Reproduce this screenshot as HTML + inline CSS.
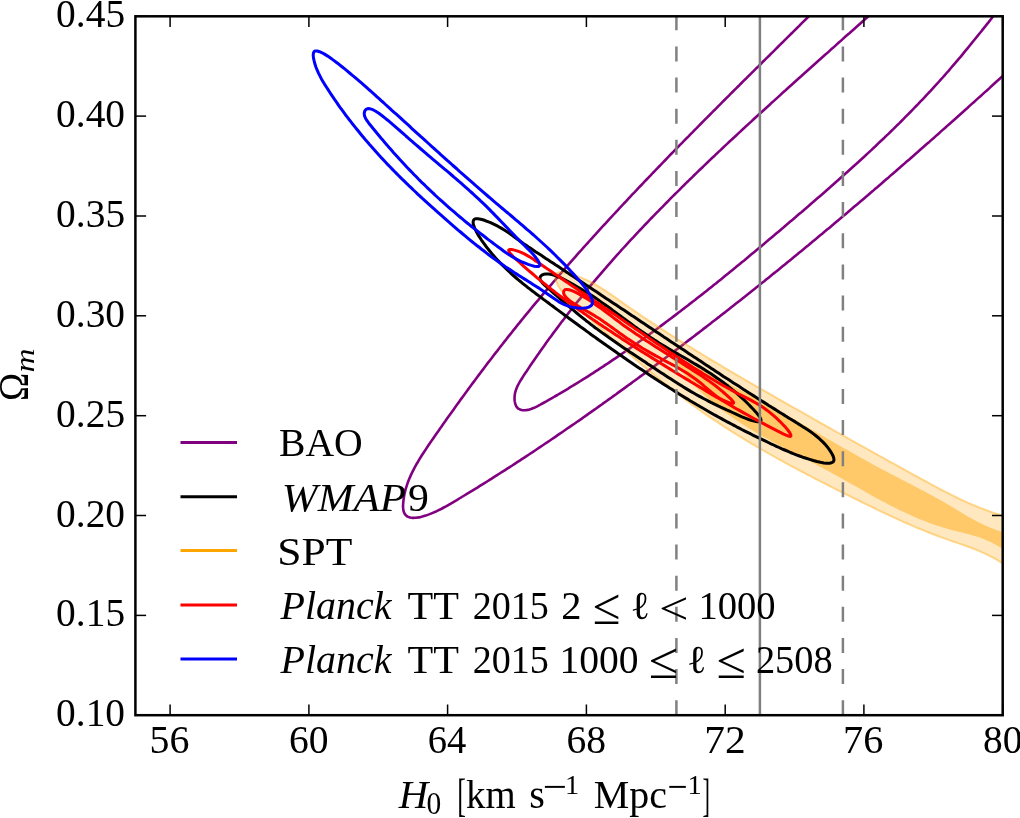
<!DOCTYPE html><html><head><meta charset="utf-8"><style>html,body{margin:0;padding:0;background:#fff;width:1020px;height:818px;overflow:hidden}svg{display:block;will-change:transform}</style></head><body><svg width="1020" height="818" viewBox="0 0 1020 818">
<defs><clipPath id="ax"><rect x="135.4" y="16.3" width="867.3" height="698.9"/></clipPath></defs>
<rect width="1020" height="818" fill="#fff"/>
<g clip-path="url(#ax)" fill="none" stroke-linejoin="round">
<path d="M923.5,-100.0 L921.4,-97.8 L919.4,-95.7 L917.3,-93.5 L915.2,-91.4 L913.2,-89.2 L911.1,-87.0 L909.0,-84.9 L906.9,-82.7 L904.9,-80.6 L902.8,-78.4 L900.7,-76.3 L898.6,-74.1 L896.5,-72.0 L894.4,-69.8 L892.4,-67.7 L890.3,-65.6 L888.2,-63.4 L886.1,-61.3 L884.0,-59.1 L881.9,-57.0 L879.8,-54.9 L877.7,-52.7 L875.6,-50.6 L873.5,-48.4 L871.4,-46.3 L869.3,-44.2 L867.2,-42.0 L865.0,-39.9 L862.9,-37.8 L860.8,-35.7 L858.7,-33.5 L856.6,-31.4 L854.5,-29.3 L852.4,-27.1 L850.2,-25.0 L848.1,-22.9 L846.0,-20.8 L843.9,-18.6 L841.8,-16.5 L839.6,-14.4 L837.5,-12.3 L835.4,-10.2 L833.3,-8.0 L831.1,-5.9 L829.0,-3.8 L826.9,-1.7 L824.8,0.4 L822.6,2.6 L820.5,4.7 L818.4,6.8 L816.2,8.9 L814.1,11.0 L812.0,13.2 L809.8,15.3 L807.7,17.4 L805.6,19.5 L803.4,21.6 L801.3,23.7 L799.2,25.9 L797.0,28.0 L794.9,30.1 L792.8,32.2 L790.6,34.3 L788.5,36.4 L786.3,38.6 L784.2,40.7 L782.1,42.8 L779.9,44.9 L777.8,47.0 L775.7,49.1 L773.5,51.3 L771.4,53.4 L769.3,55.5 L767.1,57.6 L765.0,59.7 L762.8,61.8 L760.7,64.0 L758.6,66.1 L756.4,68.2 L754.3,70.3 L752.2,72.4 L750.0,74.6 L747.9,76.7 L745.8,78.8 L743.6,80.9 L741.5,83.0 L739.4,85.2 L737.2,87.3 L735.1,89.4 L733.0,91.5 L730.8,93.7 L728.7,95.8 L726.6,97.9 L724.5,100.0 L722.3,102.2 L720.2,104.3 L718.1,106.4 L716.0,108.6 L713.8,110.7 L711.7,112.8 L709.6,115.0 L707.5,117.1 L705.4,119.2 L703.2,121.4 L701.1,123.5 L699.0,125.6 L696.9,127.8 L694.8,129.9 L692.7,132.1 L690.6,134.2 L688.5,136.4 L686.3,138.5 L684.2,140.6 L682.1,142.8 L680.0,144.9 L677.9,147.1 L675.8,149.2 L673.7,151.4 L671.6,153.5 L669.5,155.7 L667.4,157.9 L665.4,160.0 L663.3,162.2 L661.2,164.3 L659.1,166.5 L657.0,168.7 L654.9,170.8 L652.8,173.0 L650.8,175.2 L648.7,177.3 L646.6,179.5 L644.5,181.7 L642.5,183.8 L640.4,186.0 L638.3,188.2 L636.3,190.4 L634.2,192.6 L632.1,194.7 L630.1,196.9 L628.0,199.1 L626.0,201.3 L623.9,203.5 L621.9,205.7 L619.8,207.9 L617.8,210.1 L615.7,212.3 L613.7,214.5 L611.7,216.7 L609.6,218.9 L607.6,221.1 L605.6,223.3 L603.5,225.5 L601.5,227.7 L599.5,229.9 L597.5,232.1 L595.5,234.4 L593.4,236.6 L591.4,238.8 L589.4,241.0 L587.4,243.3 L585.4,245.5 L583.4,247.7 L581.4,250.0 L579.4,252.2 L577.4,254.4 L575.5,256.7 L573.5,258.9 L571.5,261.2 L569.5,263.4 L567.5,265.7 L565.6,267.9 L563.6,270.2 L561.6,272.5 L559.7,274.7 L557.7,277.0 L555.8,279.3 L553.8,281.5 L551.9,283.8 L549.9,286.1 L548.0,288.4 L546.1,290.6 L544.1,292.9 L542.2,295.2 L540.3,297.5 L538.4,299.8 L536.4,302.1 L534.5,304.4 L532.6,306.7 L530.7,309.0 L528.8,311.3 L526.9,313.6 L525.0,315.9 L523.1,318.3 L521.2,320.6 L519.4,322.9 L517.5,325.2 L515.6,327.6 L513.7,329.9 L511.9,332.2 L510.0,334.6 L508.1,336.9 L506.3,339.3 L504.4,341.6 L502.6,344.0 L500.7,346.3 L498.9,348.7 L497.1,351.1 L495.2,353.4 L493.4,355.8 L491.6,358.2 L489.8,360.5 L487.9,362.9 L486.1,365.3 L484.3,367.7 L482.5,370.1 L480.7,372.5 L478.9,374.9 L477.1,377.3 L475.3,379.7 L473.5,382.1 L471.7,384.5 L469.9,387.0 L468.1,389.4 L466.4,391.8 L464.6,394.2 L462.8,396.7 L461.0,399.1 L459.3,401.6 L457.5,404.0 L455.7,406.5 L454.0,408.9 L452.2,411.4 L450.4,413.9 L448.7,416.3 L446.9,418.8 L445.2,421.3 L443.4,423.8 L441.7,426.3 L439.9,428.7 L438.2,431.2 L436.4,433.7 L434.7,436.2 L433.0,438.8 L431.2,441.3 L429.5,443.8 L427.8,446.3 L426.1,448.9 L424.4,451.4 L422.7,454.0 L421.1,456.5 L419.5,459.1 L418.0,461.7 L416.4,464.3 L415.0,466.9 L413.6,469.6 L412.3,472.2 L411.0,474.9 L409.8,477.6 L408.7,480.3 L407.6,483.1 L406.7,485.8 L405.8,488.6 L405.1,491.4 L404.4,494.3 L403.9,497.2 L403.5,500.1 L403.2,503.0 L403.0,505.9 L403.2,508.7 L403.6,511.2 L404.5,513.4 L405.8,515.3 L407.6,516.6 L410.0,517.5 L412.8,517.9 L415.8,517.8 L419.1,517.4 L422.4,516.6 L425.7,515.6 L429.0,514.4 L432.2,513.1 L435.3,511.8 L438.2,510.4 L441.1,509.0 L443.8,507.5 L446.5,506.1 L449.1,504.6 L451.7,503.1 L454.2,501.6 L456.8,500.1 L459.3,498.5 L461.8,497.0 L464.3,495.5 L466.9,493.9 L469.4,492.4 L471.9,490.9 L474.4,489.3 L477.0,487.8 L479.5,486.2 L482.0,484.6 L484.5,483.1 L487.1,481.5 L489.6,479.9 L492.1,478.3 L494.6,476.7 L497.1,475.1 L499.6,473.5 L502.1,471.9 L504.7,470.3 L507.2,468.7 L509.7,467.1 L512.2,465.5 L514.7,463.8 L517.2,462.2 L519.7,460.6 L522.2,458.9 L524.7,457.3 L527.2,455.7 L529.7,454.0 L532.2,452.4 L534.7,450.7 L537.2,449.0 L539.6,447.4 L542.1,445.7 L544.6,444.0 L547.1,442.4 L549.6,440.7 L552.1,439.0 L554.6,437.3 L557.0,435.6 L559.5,433.9 L562.0,432.2 L564.5,430.5 L566.9,428.8 L569.4,427.1 L571.9,425.4 L574.4,423.7 L576.8,422.0 L579.3,420.3 L581.8,418.6 L584.2,416.8 L586.7,415.1 L589.1,413.4 L591.6,411.6 L594.1,409.9 L596.5,408.2 L599.0,406.4 L601.4,404.7 L603.9,402.9 L606.3,401.2 L608.8,399.4 L611.2,397.7 L613.7,395.9 L616.1,394.2 L618.5,392.4 L621.0,390.6 L623.4,388.9 L625.8,387.1 L628.3,385.3 L630.7,383.6 L633.1,381.8 L635.6,380.0 L638.0,378.2 L640.4,376.4 L642.8,374.7 L645.3,372.9 L647.7,371.1 L650.1,369.3 L652.5,367.5 L654.9,365.7 L657.3,363.9 L659.7,362.1 L662.2,360.3 L664.6,358.5 L667.0,356.7 L669.4,354.9 L671.8,353.1 L674.2,351.3 L676.6,349.5 L679.0,347.7 L681.4,345.9 L683.8,344.0 L686.1,342.2 L688.5,340.4 L690.9,338.6 L693.3,336.8 L695.7,334.9 L698.1,333.1 L700.5,331.3 L702.8,329.4 L705.2,327.6 L707.6,325.8 L710.0,323.9 L712.3,322.1 L714.7,320.3 L717.1,318.4 L719.5,316.6 L721.8,314.7 L724.2,312.9 L726.6,311.0 L728.9,309.2 L731.3,307.3 L733.6,305.5 L736.0,303.6 L738.4,301.7 L740.7,299.9 L743.1,298.0 L745.4,296.2 L747.8,294.3 L750.1,292.4 L752.5,290.5 L754.8,288.7 L757.2,286.8 L759.5,284.9 L761.8,283.0 L764.2,281.2 L766.5,279.3 L768.9,277.4 L771.2,275.5 L773.5,273.6 L775.9,271.8 L778.2,269.9 L780.5,268.0 L782.9,266.1 L785.2,264.2 L787.5,262.3 L789.8,260.4 L792.2,258.5 L794.5,256.6 L796.8,254.7 L799.1,252.8 L801.4,250.9 L803.8,249.0 L806.1,247.1 L808.4,245.2 L810.7,243.2 L813.0,241.3 L815.3,239.4 L817.6,237.5 L819.9,235.6 L822.2,233.7 L824.5,231.7 L826.8,229.8 L829.2,227.9 L831.5,226.0 L833.8,224.1 L836.1,222.1 L838.3,220.2 L840.6,218.3 L842.9,216.3 L845.2,214.4 L847.5,212.5 L849.8,210.5 L852.1,208.6 L854.4,206.6 L856.7,204.7 L859.0,202.8 L861.3,200.8 L863.5,198.9 L865.8,196.9 L868.1,195.0 L870.4,193.0 L872.7,191.1 L874.9,189.1 L877.2,187.2 L879.5,185.2 L881.8,183.3 L884.0,181.3 L886.3,179.3 L888.6,177.4 L890.8,175.4 L893.1,173.4 L895.4,171.5 L897.6,169.5 L899.9,167.6 L902.2,165.6 L904.4,163.6 L906.7,161.6 L909.0,159.7 L911.2,157.7 L913.5,155.7 L915.7,153.7 L918.0,151.8 L920.2,149.8 L922.5,147.8 L924.8,145.8 L927.0,143.8 L929.3,141.9 L931.5,139.9 L933.8,137.9 L936.0,135.9 L938.3,133.9 L940.5,131.9 L942.7,129.9 L945.0,127.9 L947.2,125.9 L949.5,123.9 L951.7,122.0 L954.0,120.0 L956.2,118.0 L958.4,116.0 L960.7,114.0 L962.9,112.0 L965.1,110.0 L967.4,108.0 L969.6,105.9 L971.8,103.9 L974.1,101.9 L976.3,99.9 L978.5,97.9 L980.8,95.9 L983.0,93.9 L985.2,91.9 L987.5,89.9 L989.7,87.9 L991.9,85.8 L994.1,83.8 L996.3,81.8 L998.6,79.8 L1000.8,77.8 L1003.0,75.8 L1005.2,73.7 L1007.5,71.7 L1009.7,69.7 L1011.9,67.7 L1014.1,65.6 L1016.3,63.6 L1018.5,61.6 L1020.7,59.6 L1023.0,57.5 L1025.2,55.5 L1027.4,53.5 L1029.6,51.4 L1031.8,49.4 L1034.0,47.4 L1036.2,45.3 L1038.4,43.3 L1040.6,41.3 L1042.8,39.2 L1045.1,37.2 L1047.3,35.1 L1049.5,33.1 L1051.7,31.1 L1053.9,29.0 L1056.1,27.0 L1058.3,24.9 L1060.5,22.9 L1062.7,20.9 L1064.9,18.8 L1067.1,16.8 L1069.3,14.7 L1071.5,12.7 L1073.7,10.6 L1075.9,8.6 L1078.1,6.5 L1080.3,4.5 L1082.4,2.4 L1084.6,0.4 L1086.8,-1.7 L1089.0,-3.7 L1091.2,-5.8 L1093.4,-7.9 L1095.6,-9.9 L1097.8,-12.0 L1100.0,-14.0" stroke="#800080" stroke-width="2.60"/>
<path d="M996.0,-100.0 L993.8,-97.9 L991.6,-95.9 L989.4,-93.8 L987.2,-91.7 L985.0,-89.6 L982.8,-87.6 L980.6,-85.5 L978.4,-83.5 L976.2,-81.4 L974.0,-79.4 L971.8,-77.3 L969.6,-75.3 L967.4,-73.2 L965.2,-71.2 L963.0,-69.1 L960.8,-67.1 L958.5,-65.0 L956.3,-63.0 L954.1,-61.0 L951.9,-58.9 L949.7,-56.9 L947.5,-54.9 L945.3,-52.9 L943.0,-50.8 L940.8,-48.8 L938.6,-46.8 L936.4,-44.8 L934.2,-42.8 L931.9,-40.7 L929.7,-38.7 L927.5,-36.7 L925.3,-34.7 L923.0,-32.7 L920.8,-30.7 L918.6,-28.7 L916.4,-26.7 L914.1,-24.7 L911.9,-22.7 L909.7,-20.7 L907.5,-18.7 L905.2,-16.7 L903.0,-14.7 L900.8,-12.7 L898.5,-10.7 L896.3,-8.7 L894.1,-6.7 L891.8,-4.7 L889.6,-2.7 L887.4,-0.7 L885.1,1.3 L882.9,3.3 L880.7,5.3 L878.4,7.3 L876.2,9.3 L874.0,11.3 L871.7,13.3 L869.5,15.3 L867.3,17.2 L865.0,19.2 L862.8,21.2 L860.6,23.2 L858.3,25.2 L856.1,27.2 L853.9,29.2 L851.6,31.2 L849.4,33.2 L847.2,35.1 L844.9,37.1 L842.7,39.1 L840.5,41.1 L838.2,43.1 L836.0,45.1 L833.8,47.1 L831.5,49.1 L829.3,51.1 L827.1,53.1 L824.8,55.1 L822.6,57.0 L820.4,59.0 L818.1,61.0 L815.9,63.0 L813.7,65.0 L811.4,67.0 L809.2,69.0 L807.0,71.0 L804.7,73.0 L802.5,75.0 L800.3,77.0 L798.0,79.0 L795.8,81.0 L793.6,83.0 L791.4,85.0 L789.1,87.0 L786.9,89.0 L784.7,91.1 L782.4,93.1 L780.2,95.1 L778.0,97.1 L775.8,99.1 L773.6,101.1 L771.3,103.1 L769.1,105.2 L766.9,107.2 L764.7,109.2 L762.5,111.2 L760.2,113.3 L758.0,115.3 L755.8,117.3 L753.6,119.3 L751.4,121.4 L749.2,123.4 L746.9,125.4 L744.7,127.5 L742.5,129.5 L740.3,131.6 L738.1,133.6 L735.9,135.7 L733.7,137.7 L731.5,139.8 L729.3,141.8 L727.1,143.9 L724.9,145.9 L722.7,148.0 L720.5,150.1 L718.3,152.1 L716.1,154.2 L714.0,156.3 L711.8,158.3 L709.6,160.4 L707.4,162.5 L705.2,164.6 L703.1,166.7 L700.9,168.7 L698.7,170.8 L696.6,172.9 L694.4,175.0 L692.3,177.1 L690.1,179.2 L688.0,181.3 L685.8,183.4 L683.7,185.5 L681.5,187.6 L679.4,189.8 L677.3,191.9 L675.1,194.0 L673.0,196.1 L670.9,198.2 L668.8,200.4 L666.7,202.5 L664.6,204.6 L662.5,206.8 L660.4,208.9 L658.3,211.1 L656.2,213.2 L654.1,215.4 L652.0,217.5 L649.9,219.7 L647.9,221.8 L645.8,224.0 L643.7,226.2 L641.7,228.3 L639.6,230.5 L637.6,232.7 L635.5,234.9 L633.5,237.1 L631.5,239.2 L629.4,241.4 L627.4,243.6 L625.4,245.8 L623.4,248.0 L621.4,250.2 L619.4,252.5 L617.4,254.7 L615.4,256.9 L613.4,259.1 L611.5,261.4 L609.5,263.6 L607.5,265.8 L605.6,268.1 L603.6,270.3 L601.7,272.6 L599.8,274.8 L597.8,277.1 L595.9,279.4 L594.0,281.7 L592.0,283.9 L590.1,286.2 L588.2,288.5 L586.3,290.8 L584.4,293.1 L582.5,295.4 L580.7,297.8 L578.8,300.1 L576.9,302.4 L575.0,304.8 L573.2,307.1 L571.3,309.5 L569.5,311.8 L567.6,314.2 L565.8,316.6 L564.0,319.0 L562.1,321.3 L560.3,323.7 L558.5,326.2 L556.7,328.6 L554.9,331.0 L553.1,333.4 L551.3,335.9 L549.5,338.3 L547.7,340.8 L545.9,343.2 L544.2,345.7 L542.4,348.2 L540.6,350.7 L538.9,353.2 L537.1,355.7 L535.4,358.2 L533.7,360.7 L531.9,363.3 L530.2,365.8 L528.5,368.4 L526.8,371.0 L525.0,373.5 L523.3,376.1 L521.7,378.7 L520.0,381.4 L518.6,384.0 L517.2,386.7 L516.1,389.5 L515.2,392.3 L514.7,395.3 L514.5,398.3 L514.7,401.2 L515.3,404.0 L516.3,406.4 L517.9,408.3 L519.9,409.5 L522.4,410.2 L525.1,410.3 L528.0,409.9 L531.0,409.0 L534.1,407.8 L537.2,406.3 L540.3,404.7 L543.3,403.0 L546.3,401.4 L549.2,399.7 L552.0,398.1 L554.7,396.5 L557.4,395.0 L560.1,393.4 L562.7,391.9 L565.3,390.3 L567.8,388.8 L570.3,387.2 L572.9,385.7 L575.4,384.1 L577.9,382.6 L580.5,381.0 L583.0,379.4 L585.5,377.9 L588.0,376.3 L590.5,374.7 L593.0,373.1 L595.5,371.4 L598.0,369.8 L600.5,368.2 L603.0,366.6 L605.4,364.9 L607.9,363.3 L610.4,361.6 L612.9,359.9 L615.3,358.3 L617.8,356.6 L620.3,354.9 L622.7,353.2 L625.2,351.5 L627.6,349.8 L630.1,348.1 L632.5,346.4 L635.0,344.7 L637.4,343.0 L639.8,341.2 L642.3,339.5 L644.7,337.8 L647.1,336.0 L649.5,334.2 L651.9,332.5 L654.4,330.7 L656.8,329.0 L659.2,327.2 L661.6,325.4 L664.0,323.6 L666.4,321.8 L668.8,320.0 L671.2,318.2 L673.6,316.4 L676.0,314.6 L678.3,312.8 L680.7,311.0 L683.1,309.1 L685.5,307.3 L687.9,305.5 L690.2,303.6 L692.6,301.8 L695.0,300.0 L697.3,298.1 L699.7,296.2 L702.1,294.4 L704.4,292.5 L706.8,290.7 L709.1,288.8 L711.5,286.9 L713.8,285.0 L716.2,283.2 L718.5,281.3 L720.9,279.4 L723.2,277.5 L725.5,275.6 L727.9,273.7 L730.2,271.8 L732.5,269.9 L734.9,268.0 L737.2,266.1 L739.5,264.2 L741.8,262.3 L744.2,260.4 L746.5,258.4 L748.8,256.5 L751.1,254.6 L753.4,252.7 L755.8,250.7 L758.1,248.8 L760.4,246.9 L762.7,245.0 L765.0,243.0 L767.3,241.1 L769.6,239.1 L771.9,237.2 L774.2,235.3 L776.5,233.3 L778.8,231.4 L781.1,229.4 L783.4,227.5 L785.7,225.5 L788.0,223.6 L790.3,221.6 L792.6,219.7 L794.9,217.7 L797.1,215.8 L799.4,213.8 L801.7,211.9 L804.0,209.9 L806.3,207.9 L808.6,206.0 L810.8,204.0 L813.1,202.1 L815.4,200.1 L817.7,198.1 L819.9,196.2 L822.2,194.2 L824.5,192.2 L826.7,190.2 L829.0,188.2 L831.2,186.3 L833.5,184.3 L835.7,182.3 L838.0,180.3 L840.2,178.3 L842.5,176.3 L844.7,174.3 L847.0,172.3 L849.2,170.3 L851.4,168.3 L853.6,166.3 L855.9,164.3 L858.1,162.3 L860.3,160.2 L862.5,158.2 L864.7,156.2 L866.9,154.1 L869.1,152.1 L871.3,150.1 L873.5,148.0 L875.7,146.0 L877.8,143.9 L880.0,141.8 L882.2,139.8 L884.4,137.7 L886.5,135.6 L888.7,133.6 L890.8,131.5 L893.0,129.4 L895.1,127.3 L897.2,125.2 L899.4,123.1 L901.5,121.0 L903.6,118.9 L905.7,116.7 L907.8,114.6 L909.9,112.5 L912.0,110.3 L914.1,108.2 L916.2,106.0 L918.3,103.9 L920.3,101.7 L922.4,99.6 L924.5,97.4 L926.5,95.2 L928.5,93.0 L930.6,90.8 L932.6,88.6 L934.6,86.4 L936.7,84.2 L938.7,82.0 L940.7,79.7 L942.7,77.5 L944.6,75.3 L946.6,73.0 L948.6,70.8 L950.5,68.5 L952.5,66.2 L954.5,63.9 L956.4,61.7 L958.3,59.4 L960.3,57.1 L962.2,54.8 L964.1,52.4 L966.0,50.1 L967.9,47.8 L969.8,45.5 L971.7,43.2 L973.6,40.8 L975.5,38.5 L977.4,36.2 L979.3,33.8 L981.2,31.5 L983.0,29.1 L984.9,26.8 L986.8,24.4 L988.7,22.1 L990.5,19.7 L992.4,17.3 L994.3,15.0 L996.1,12.6 L998.0,10.3 L999.9,7.9 L1001.7,5.5 L1003.6,3.2 L1005.5,0.8 L1007.3,-1.5 L1009.2,-3.9 L1011.1,-6.2 L1013.0,-8.6 L1014.8,-10.9 L1016.7,-13.3 L1018.6,-15.6 L1020.5,-18.0 L1022.4,-20.3 L1024.3,-22.7 L1026.2,-25.0 L1028.1,-27.3 L1030.0,-29.6 L1031.9,-32.0 L1033.8,-34.3 L1035.7,-36.6 L1037.6,-38.9 L1039.6,-41.2 L1041.5,-43.5 L1043.4,-45.8 L1045.4,-48.0 L1047.3,-50.3 L1049.3,-52.6 L1051.3,-54.8 L1053.3,-57.1 L1055.3,-59.3 L1057.3,-61.5 L1059.3,-63.8 L1061.3,-66.0 L1063.3,-68.2 L1065.3,-70.4 L1067.4,-72.6 L1069.4,-74.8 L1071.5,-76.9 L1073.6,-79.1 L1075.7,-81.2 L1077.8,-83.4 L1079.9,-85.5 L1082.0,-87.6 L1084.1,-89.7 L1086.3,-91.8 L1088.4,-93.9 L1090.6,-95.9 L1092.8,-98.0 L1095.0,-100.0" stroke="#800080" stroke-width="2.60"/>
<path d="M555.5,274.0 L556.7,272.9 L558.5,272.3 L560.8,272.2 L563.5,272.4 L566.5,272.9 L569.8,273.7 L573.1,274.7 L576.5,275.8 L579.8,277.1 L583.0,278.4 L586.1,279.7 L589.1,281.2 L592.0,282.7 L594.8,284.2 L597.6,285.8 L600.3,287.4 L602.9,289.1 L605.5,290.7 L608.0,292.5 L610.5,294.2 L613.0,295.9 L615.5,297.6 L617.9,299.4 L620.4,301.1 L622.9,302.9 L625.3,304.6 L627.8,306.3 L630.2,308.0 L632.7,309.7 L635.2,311.4 L637.7,313.1 L640.2,314.8 L642.6,316.5 L645.1,318.1 L647.6,319.8 L650.1,321.4 L652.6,323.1 L655.1,324.7 L657.6,326.4 L660.1,328.0 L662.6,329.6 L665.2,331.3 L667.7,332.9 L670.2,334.5 L672.7,336.1 L675.3,337.7 L677.8,339.3 L680.3,340.9 L682.9,342.5 L685.4,344.0 L687.9,345.6 L690.5,347.2 L693.0,348.7 L695.6,350.3 L698.1,351.9 L700.7,353.4 L703.2,355.0 L705.8,356.5 L708.4,358.1 L710.9,359.6 L713.5,361.1 L716.1,362.7 L718.6,364.2 L721.2,365.7 L723.8,367.3 L726.4,368.8 L728.9,370.3 L731.5,371.8 L734.1,373.3 L736.7,374.8 L739.3,376.4 L741.9,377.9 L744.5,379.4 L747.0,380.9 L749.6,382.4 L752.2,383.9 L754.8,385.4 L757.4,386.9 L760.0,388.4 L762.6,389.9 L765.2,391.4 L767.9,392.8 L770.5,394.3 L773.1,395.8 L775.7,397.3 L778.3,398.8 L780.9,400.3 L783.5,401.8 L786.1,403.3 L788.7,404.8 L791.4,406.3 L794.0,407.8 L796.6,409.2 L799.2,410.7 L801.8,412.2 L804.5,413.7 L807.1,415.2 L809.7,416.7 L812.3,418.2 L814.9,419.7 L817.6,421.1 L820.2,422.6 L822.8,424.1 L825.4,425.6 L828.1,427.1 L830.7,428.5 L833.3,430.0 L835.9,431.5 L838.6,433.0 L841.2,434.5 L843.8,435.9 L846.5,437.4 L849.1,438.9 L851.7,440.4 L854.3,441.8 L857.0,443.3 L859.6,444.8 L862.2,446.2 L864.9,447.7 L867.5,449.2 L870.1,450.6 L872.7,452.1 L875.4,453.6 L878.0,455.0 L880.6,456.5 L883.2,457.9 L885.9,459.4 L888.5,460.8 L891.1,462.3 L893.7,463.7 L896.4,465.2 L899.0,466.6 L901.6,468.1 L904.2,469.5 L906.8,471.0 L909.4,472.4 L912.1,473.9 L914.7,475.3 L917.3,476.7 L919.9,478.2 L922.5,479.6 L925.1,481.0 L927.7,482.4 L930.4,483.9 L933.0,485.3 L935.6,486.7 L938.2,488.1 L940.9,489.5 L943.5,490.8 L946.1,492.2 L948.8,493.5 L951.5,494.9 L954.1,496.2 L956.8,497.5 L959.5,498.8 L962.2,500.1 L965.0,501.3 L967.7,502.6 L970.5,503.8 L973.2,505.0 L976.0,506.1 L978.8,507.3 L981.7,508.4 L984.5,509.5 L987.4,510.6 L990.3,511.6 L993.2,512.6 L996.1,513.6 L999.1,514.5 L1002.1,515.5 L1005.1,516.3 L1008.2,517.2 L1011.2,518.1 L1014.2,519.0 L1017.2,520.0 L1020.1,521.0 L1023.0,522.1 L1025.7,523.4 L1028.4,524.9 L1030.9,526.5 L1033.3,528.3 L1035.5,530.3 L1037.5,532.6 L1039.4,535.2 L1041.0,538.0 L1042.4,541.2 L1043.6,544.5 L1044.5,548.0 L1045.3,551.6 L1045.8,555.2 L1046.0,558.8 L1046.1,562.3 L1045.9,565.7 L1045.5,568.9 L1044.9,571.8 L1044.0,574.5 L1042.9,576.7 L1041.6,578.5 L1040.0,579.9 L1038.2,580.7 L1036.2,581.0 L1034.0,580.8 L1031.6,580.3 L1029.0,579.4 L1026.4,578.2 L1023.6,576.7 L1020.7,575.0 L1017.7,573.2 L1014.7,571.2 L1011.6,569.2 L1008.6,567.1 L1005.5,565.1 L1002.4,563.1 L999.4,561.3 L996.5,559.5 L993.5,557.9 L990.6,556.4 L987.7,554.9 L984.9,553.6 L982.1,552.3 L979.3,551.1 L976.5,549.9 L973.7,548.8 L971.0,547.8 L968.2,546.8 L965.5,545.8 L962.8,544.8 L960.0,543.9 L957.3,542.9 L954.5,542.0 L951.8,541.0 L949.0,540.1 L946.2,539.1 L943.4,538.1 L940.6,537.1 L937.8,536.0 L935.0,535.0 L932.2,533.9 L929.4,532.8 L926.6,531.7 L923.8,530.5 L921.0,529.4 L918.2,528.3 L915.4,527.1 L912.6,525.9 L909.9,524.7 L907.2,523.5 L904.4,522.3 L901.7,521.1 L899.0,519.9 L896.3,518.7 L893.6,517.4 L890.9,516.2 L888.2,514.9 L885.5,513.7 L882.9,512.4 L880.2,511.1 L877.5,509.8 L874.9,508.5 L872.2,507.2 L869.5,505.9 L866.8,504.6 L864.2,503.3 L861.5,502.0 L858.8,500.7 L856.2,499.4 L853.5,498.0 L850.8,496.7 L848.1,495.4 L845.4,494.0 L842.7,492.7 L840.0,491.3 L837.4,490.0 L834.7,488.6 L832.0,487.3 L829.3,485.9 L826.6,484.5 L823.9,483.2 L821.2,481.8 L818.5,480.4 L815.8,479.0 L813.1,477.6 L810.4,476.2 L807.7,474.8 L805.1,473.4 L802.4,472.0 L799.7,470.6 L797.0,469.1 L794.3,467.7 L791.7,466.3 L789.0,464.8 L786.3,463.4 L783.7,461.9 L781.0,460.4 L778.3,459.0 L775.7,457.5 L773.0,456.0 L770.4,454.5 L767.7,453.0 L765.1,451.5 L762.5,450.0 L759.9,448.5 L757.2,447.0 L754.6,445.4 L752.0,443.9 L749.4,442.3 L746.8,440.8 L744.2,439.2 L741.7,437.7 L739.1,436.1 L736.5,434.5 L734.0,432.9 L731.4,431.3 L728.9,429.7 L726.3,428.1 L723.8,426.5 L721.3,424.8 L718.8,423.2 L716.3,421.5 L713.8,419.9 L711.3,418.2 L708.9,416.6 L706.4,414.9 L704.0,413.2 L701.5,411.5 L699.1,409.8 L696.7,408.0 L694.3,406.3 L691.9,404.6 L689.5,402.8 L687.1,401.1 L684.8,399.3 L682.4,397.5 L680.1,395.8 L677.7,394.0 L675.4,392.2 L673.1,390.4 L670.8,388.5 L668.4,386.7 L666.1,384.9 L663.8,383.0 L661.5,381.2 L659.2,379.3 L657.0,377.4 L654.7,375.6 L652.4,373.7 L650.1,371.8 L647.8,369.9 L645.6,368.0 L643.3,366.1 L641.0,364.1 L638.8,362.2 L636.5,360.3 L634.2,358.3 L632.0,356.3 L629.7,354.4 L627.5,352.4 L625.2,350.4 L622.9,348.4 L620.6,346.4 L618.4,344.4 L616.1,342.4 L613.8,340.4 L611.5,338.4 L609.3,336.3 L607.0,334.3 L604.7,332.2 L602.4,330.2 L600.1,328.1 L597.7,326.0 L595.4,324.0 L593.1,321.9 L590.8,319.8 L588.4,317.7 L586.1,315.6 L583.7,313.5 L581.4,311.3 L579.0,309.2 L576.6,307.1 L574.3,304.9 L571.9,302.7 L569.7,300.4 L567.4,298.1 L565.3,295.7 L563.3,293.2 L561.3,290.6 L559.5,287.9 L557.9,285.2 L556.6,282.5 L555.6,279.9 L555.0,277.6 L555.0,275.6 L555.5,274.0Z" fill="#ffa500" fill-opacity="0.25" stroke="#ffa500" stroke-opacity="0.4" stroke-width="2"/>
<path d="M672.1,358.1 L672.6,357.4 L673.9,357.3 L675.9,357.7 L678.4,358.5 L681.4,359.6 L684.8,361.1 L688.3,362.8 L692.1,364.6 L695.8,366.4 L699.5,368.3 L702.9,370.1 L706.2,371.8 L709.4,373.4 L712.4,374.9 L715.2,376.4 L718.0,377.9 L720.6,379.3 L723.2,380.7 L725.7,382.0 L728.1,383.3 L730.5,384.6 L732.9,385.9 L735.2,387.2 L737.6,388.5 L740.0,389.8 L742.5,391.1 L745.0,392.5 L747.5,393.8 L750.1,395.2 L752.6,396.6 L755.2,398.0 L757.9,399.4 L760.5,400.8 L763.2,402.3 L765.9,403.7 L768.5,405.2 L771.2,406.6 L773.9,408.1 L776.6,409.6 L779.3,411.1 L782.0,412.5 L784.6,414.0 L787.3,415.5 L789.9,417.0 L792.6,418.5 L795.2,420.0 L797.8,421.5 L800.4,423.0 L803.0,424.5 L805.6,426.0 L808.2,427.5 L810.8,429.0 L813.4,430.5 L816.0,432.0 L818.6,433.5 L821.2,435.0 L823.8,436.5 L826.3,437.9 L828.9,439.4 L831.5,440.9 L834.1,442.4 L836.6,443.9 L839.2,445.4 L841.8,446.9 L844.4,448.4 L847.0,449.8 L849.5,451.3 L852.1,452.8 L854.7,454.3 L857.3,455.7 L859.9,457.2 L862.5,458.6 L865.1,460.1 L867.7,461.5 L870.4,463.0 L873.0,464.4 L875.6,465.9 L878.3,467.3 L880.9,468.7 L883.6,470.1 L886.3,471.5 L888.9,472.9 L891.6,474.3 L894.3,475.7 L897.0,477.1 L899.7,478.5 L902.4,479.9 L905.1,481.3 L907.7,482.7 L910.4,484.1 L913.1,485.5 L915.8,486.9 L918.5,488.3 L921.1,489.7 L923.8,491.1 L926.4,492.5 L929.1,493.9 L931.7,495.3 L934.3,496.8 L936.9,498.2 L939.5,499.6 L942.0,501.1 L944.6,502.6 L947.1,504.0 L949.6,505.5 L952.1,507.0 L954.6,508.5 L957.1,510.0 L959.6,511.5 L962.0,513.0 L964.5,514.5 L967.0,515.9 L969.5,517.4 L972.1,518.8 L974.6,520.3 L977.2,521.6 L979.9,523.0 L982.6,524.3 L985.3,525.6 L988.1,526.8 L991.0,528.0 L994.0,529.1 L997.0,530.2 L1000.1,531.2 L1003.3,532.2 L1006.6,533.1 L1009.9,533.9 L1013.3,534.8 L1016.6,535.7 L1019.8,536.7 L1022.9,537.7 L1025.9,538.9 L1028.8,540.2 L1031.4,541.7 L1033.8,543.4 L1035.9,545.3 L1037.7,547.5 L1039.1,550.0 L1040.1,552.8 L1040.8,555.9 L1041.0,559.0 L1040.8,561.9 L1040.1,564.4 L1039.1,566.1 L1037.6,567.1 L1035.8,567.5 L1033.7,567.3 L1031.2,566.6 L1028.5,565.4 L1025.7,563.9 L1022.6,562.1 L1019.4,560.0 L1016.1,557.8 L1012.7,555.5 L1009.3,553.2 L1005.9,550.9 L1002.5,548.7 L999.3,546.7 L996.1,544.9 L993.0,543.3 L989.9,541.8 L986.9,540.5 L984.0,539.2 L981.1,538.1 L978.3,537.1 L975.5,536.2 L972.8,535.4 L970.0,534.6 L967.3,533.9 L964.6,533.2 L962.0,532.6 L959.3,531.9 L956.6,531.3 L953.9,530.6 L951.2,529.9 L948.4,529.1 L945.7,528.3 L942.9,527.5 L940.1,526.6 L937.3,525.7 L934.4,524.7 L931.6,523.7 L928.8,522.7 L926.0,521.6 L923.1,520.5 L920.3,519.4 L917.5,518.2 L914.7,517.0 L912.0,515.8 L909.2,514.6 L906.5,513.3 L903.8,512.1 L901.0,510.8 L898.3,509.5 L895.6,508.1 L892.9,506.8 L890.3,505.4 L887.6,504.0 L884.9,502.6 L882.3,501.2 L879.6,499.8 L877.0,498.4 L874.4,496.9 L871.7,495.5 L869.1,494.0 L866.5,492.5 L863.9,491.1 L861.3,489.6 L858.7,488.1 L856.1,486.6 L853.5,485.2 L850.8,483.7 L848.2,482.2 L845.6,480.7 L843.0,479.3 L840.4,477.8 L837.8,476.3 L835.2,474.9 L832.6,473.4 L829.9,472.0 L827.3,470.6 L824.7,469.2 L822.1,467.8 L819.4,466.4 L816.8,465.0 L814.1,463.6 L811.5,462.2 L808.8,460.8 L806.2,459.5 L803.5,458.1 L800.9,456.7 L798.3,455.4 L795.6,454.0 L793.0,452.6 L790.3,451.3 L787.7,449.9 L785.0,448.5 L782.4,447.1 L779.8,445.7 L777.2,444.3 L774.5,442.9 L771.9,441.5 L769.3,440.1 L766.7,438.6 L764.1,437.2 L761.5,435.7 L759.0,434.3 L756.4,432.8 L753.8,431.3 L751.3,429.7 L748.7,428.2 L746.2,426.6 L743.7,425.0 L741.2,423.4 L738.7,421.8 L736.2,420.2 L733.8,418.5 L731.3,416.8 L728.9,415.1 L726.4,413.3 L724.0,411.6 L721.6,409.8 L719.3,407.9 L716.9,406.1 L714.6,404.2 L712.2,402.3 L709.9,400.3 L707.6,398.3 L705.4,396.3 L703.1,394.2 L700.9,392.1 L698.7,390.0 L696.5,387.8 L694.3,385.6 L692.2,383.3 L690.0,381.0 L687.9,378.6 L685.7,376.2 L683.5,373.7 L681.3,371.2 L679.1,368.6 L677.0,366.0 L675.0,363.5 L673.4,361.3 L672.4,359.4 L672.1,358.1Z" fill="#ffa500" fill-opacity="0.45" stroke="none"/>
<path d="M474.2,219.3 L475.8,218.7 L478.0,218.7 L480.7,219.2 L483.7,220.0 L487.1,221.3 L490.6,222.7 L494.2,224.4 L497.8,226.2 L501.2,228.1 L504.3,230.0 L507.1,231.8 L509.7,233.6 L512.1,235.3 L514.4,237.0 L516.7,238.7 L519.0,240.4 L521.3,242.0 L523.7,243.7 L526.1,245.3 L528.5,247.0 L531.0,248.6 L533.4,250.2 L535.9,251.9 L538.4,253.5 L540.9,255.1 L543.3,256.7 L545.8,258.4 L548.3,260.0 L550.8,261.7 L553.3,263.3 L555.8,265.0 L558.3,266.6 L560.8,268.3 L563.3,269.9 L565.8,271.6 L568.4,273.2 L570.9,274.9 L573.4,276.6 L575.9,278.2 L578.4,279.9 L580.9,281.6 L583.5,283.3 L586.0,284.9 L588.5,286.6 L591.0,288.3 L593.6,290.0 L596.1,291.6 L598.6,293.3 L601.1,295.0 L603.7,296.7 L606.2,298.4 L608.7,300.0 L611.2,301.7 L613.8,303.4 L616.3,305.1 L618.8,306.8 L621.3,308.4 L623.9,310.1 L626.4,311.8 L628.9,313.5 L631.4,315.2 L633.9,316.8 L636.5,318.5 L639.0,320.2 L641.5,321.9 L644.0,323.6 L646.5,325.2 L649.0,326.9 L651.5,328.6 L654.0,330.2 L656.5,331.9 L659.0,333.6 L661.5,335.2 L663.9,336.9 L666.4,338.5 L668.9,340.2 L671.4,341.9 L673.9,343.5 L676.4,345.2 L678.8,346.8 L681.3,348.5 L683.8,350.1 L686.3,351.8 L688.7,353.4 L691.2,355.1 L693.7,356.7 L696.2,358.3 L698.7,360.0 L701.1,361.6 L703.6,363.3 L706.1,364.9 L708.6,366.5 L711.1,368.2 L713.6,369.8 L716.0,371.5 L718.5,373.1 L721.0,374.7 L723.5,376.4 L726.0,378.0 L728.5,379.6 L731.0,381.3 L733.5,382.9 L736.1,384.5 L738.6,386.1 L741.1,387.8 L743.6,389.4 L746.1,391.0 L748.7,392.7 L751.2,394.3 L753.8,395.9 L756.3,397.5 L758.9,399.2 L761.4,400.8 L764.0,402.4 L766.6,404.0 L769.1,405.7 L771.7,407.3 L774.3,408.9 L776.9,410.5 L779.5,412.2 L782.1,413.8 L784.7,415.4 L787.3,417.1 L790.0,418.7 L792.6,420.3 L795.3,421.9 L797.9,423.6 L800.6,425.2 L803.2,426.9 L805.8,428.6 L808.4,430.3 L811.0,432.0 L813.5,433.9 L815.9,435.8 L818.3,437.7 L820.6,439.8 L822.8,441.9 L824.9,444.1 L826.9,446.4 L828.8,448.9 L830.5,451.4 L832.1,454.0 L833.3,456.5 L833.9,458.8 L833.9,460.6 L833.1,462.0 L831.6,462.8 L829.5,463.2 L826.9,463.2 L823.8,462.9 L820.5,462.3 L816.9,461.5 L813.3,460.5 L809.7,459.4 L806.1,458.3 L802.7,457.2 L799.5,456.0 L796.3,454.8 L793.3,453.7 L790.4,452.5 L787.5,451.2 L784.7,450.0 L781.9,448.8 L779.1,447.5 L776.4,446.3 L773.7,445.0 L771.0,443.8 L768.3,442.5 L765.6,441.2 L762.9,439.9 L760.3,438.7 L757.6,437.4 L754.9,436.1 L752.3,434.8 L749.7,433.4 L747.0,432.1 L744.4,430.8 L741.8,429.5 L739.2,428.1 L736.6,426.8 L734.0,425.4 L731.4,424.0 L728.8,422.6 L726.2,421.3 L723.6,419.9 L721.0,418.4 L718.4,417.0 L715.9,415.6 L713.3,414.2 L710.7,412.7 L708.1,411.2 L705.6,409.8 L703.0,408.3 L700.4,406.8 L697.8,405.3 L695.3,403.8 L692.7,402.2 L690.1,400.7 L687.6,399.1 L685.0,397.6 L682.4,396.0 L679.9,394.4 L677.3,392.8 L674.7,391.2 L672.2,389.6 L669.6,388.0 L667.0,386.3 L664.5,384.7 L661.9,383.1 L659.4,381.4 L656.8,379.7 L654.2,378.1 L651.7,376.4 L649.1,374.7 L646.6,373.0 L644.1,371.3 L641.5,369.6 L639.0,367.9 L636.4,366.2 L633.9,364.5 L631.4,362.7 L628.8,361.0 L626.3,359.3 L623.8,357.5 L621.3,355.8 L618.8,354.1 L616.3,352.3 L613.8,350.5 L611.3,348.8 L608.8,347.0 L606.3,345.3 L603.8,343.5 L601.3,341.7 L598.8,340.0 L596.4,338.2 L593.9,336.4 L591.4,334.7 L589.0,332.9 L586.5,331.1 L584.1,329.3 L581.6,327.6 L579.2,325.8 L576.8,324.0 L574.4,322.2 L572.0,320.5 L569.5,318.7 L567.1,316.9 L564.8,315.2 L562.4,313.4 L560.0,311.6 L557.6,309.9 L555.2,308.1 L552.9,306.3 L550.5,304.6 L548.2,302.8 L545.9,301.1 L543.5,299.4 L541.2,297.6 L538.9,295.9 L536.6,294.2 L534.3,292.4 L532.0,290.7 L529.7,288.9 L527.4,287.2 L525.2,285.4 L522.9,283.6 L520.7,281.7 L518.4,279.9 L516.2,278.0 L513.9,276.0 L511.7,274.1 L509.5,272.0 L507.3,270.0 L505.1,267.8 L502.9,265.6 L500.7,263.4 L498.5,261.1 L496.3,258.7 L494.1,256.2 L491.9,253.6 L489.7,251.0 L487.5,248.3 L485.4,245.5 L483.3,242.7 L481.3,239.8 L479.4,236.9 L477.7,234.1 L476.2,231.4 L474.9,228.8 L474.0,226.4 L473.3,224.2 L473.1,222.1 L473.4,220.5 L474.2,219.3Z" stroke="#000" stroke-width="3.00"/>
<path d="M543.7,274.3 L546.0,273.9 L548.7,274.0 L551.5,274.5 L554.5,275.3 L557.7,276.5 L561.0,277.9 L564.3,279.5 L567.5,281.2 L570.7,283.0 L573.8,284.8 L576.7,286.5 L579.4,288.1 L582.0,289.6 L584.3,291.0 L586.6,292.3 L588.8,293.7 L591.1,295.1 L593.3,296.6 L595.6,298.1 L598.0,299.7 L600.3,301.4 L602.7,303.1 L605.1,304.8 L607.6,306.5 L610.1,308.3 L612.5,310.2 L615.0,312.0 L617.6,313.9 L620.1,315.7 L622.7,317.6 L625.2,319.5 L627.8,321.4 L630.4,323.3 L632.9,325.2 L635.5,327.1 L638.1,328.9 L640.7,330.7 L643.3,332.5 L645.9,334.3 L648.5,336.1 L651.0,337.8 L653.6,339.4 L656.2,341.1 L658.7,342.7 L661.2,344.2 L663.8,345.8 L666.3,347.3 L668.8,348.8 L671.3,350.2 L673.8,351.7 L676.3,353.1 L678.8,354.6 L681.3,356.0 L683.8,357.4 L686.3,358.8 L688.8,360.3 L691.2,361.7 L693.7,363.2 L696.2,364.6 L698.7,366.1 L701.1,367.6 L703.6,369.1 L706.1,370.7 L708.5,372.2 L711.0,373.8 L713.5,375.5 L715.9,377.2 L718.4,378.9 L720.9,380.7 L723.3,382.5 L725.8,384.4 L728.3,386.3 L730.8,388.3 L733.2,390.3 L735.7,392.4 L738.2,394.6 L740.7,396.8 L743.2,399.1 L745.7,401.5 L748.2,404.0 L750.7,406.6 L753.3,409.2 L755.7,411.9 L757.9,414.5 L759.7,416.9 L760.8,419.0 L761.0,420.5 L760.1,421.5 L758.1,421.7 L755.3,421.4 L752.0,420.6 L748.7,419.5 L745.3,418.2 L742.0,416.8 L738.7,415.3 L735.6,413.9 L732.5,412.5 L729.6,411.2 L726.7,409.9 L724.0,408.6 L721.2,407.3 L718.6,406.1 L716.0,404.8 L713.4,403.6 L710.9,402.4 L708.4,401.1 L706.0,399.8 L703.5,398.5 L701.0,397.2 L698.6,395.9 L696.1,394.5 L693.6,393.0 L691.1,391.6 L688.6,390.1 L686.1,388.6 L683.6,387.1 L681.1,385.5 L678.6,383.9 L676.0,382.3 L673.5,380.7 L671.0,379.1 L668.4,377.4 L665.8,375.7 L663.3,374.1 L660.7,372.4 L658.1,370.7 L655.6,369.0 L653.0,367.3 L650.4,365.6 L647.8,363.9 L645.2,362.1 L642.7,360.4 L640.1,358.7 L637.5,357.0 L634.9,355.3 L632.3,353.6 L629.8,351.9 L627.2,350.1 L624.7,348.4 L622.1,346.7 L619.6,345.0 L617.1,343.3 L614.6,341.5 L612.1,339.8 L609.6,338.1 L607.2,336.3 L604.7,334.6 L602.3,332.9 L599.9,331.1 L597.6,329.4 L595.2,327.7 L592.9,325.9 L590.6,324.2 L588.4,322.4 L586.1,320.7 L583.9,318.9 L581.7,317.1 L579.5,315.3 L577.3,313.5 L575.1,311.6 L572.8,309.7 L570.6,307.8 L568.3,305.8 L565.9,303.8 L563.5,301.7 L561.1,299.6 L558.6,297.4 L556.0,295.2 L553.3,292.8 L550.6,290.4 L547.8,287.9 L544.9,285.4 L542.4,282.9 L540.6,280.5 L539.9,278.4 L540.4,276.6 L541.7,275.2 L543.7,274.3Z" stroke="#000" stroke-width="3.00"/>
<path d="M509.6,249.4 L511.7,249.5 L514.5,250.1 L517.8,251.1 L521.1,252.4 L524.3,253.9 L527.4,255.6 L530.3,257.3 L533.1,259.1 L535.7,260.9 L538.3,262.6 L540.7,264.3 L543.2,266.0 L545.7,267.7 L548.1,269.4 L550.6,271.1 L553.1,272.8 L555.5,274.5 L558.0,276.1 L560.5,277.8 L562.9,279.5 L565.4,281.2 L567.8,282.8 L570.3,284.5 L572.8,286.2 L575.2,287.8 L577.7,289.5 L580.1,291.2 L582.6,292.8 L585.1,294.5 L587.5,296.2 L590.0,297.8 L592.5,299.5 L594.9,301.2 L597.4,302.8 L599.9,304.5 L602.4,306.2 L604.8,307.9 L607.3,309.6 L609.8,311.2 L612.3,312.9 L614.8,314.6 L617.3,316.3 L619.8,318.0 L622.3,319.7 L624.8,321.5 L627.3,323.2 L629.8,324.9 L632.3,326.6 L634.8,328.4 L637.3,330.1 L639.8,331.8 L642.4,333.6 L644.9,335.3 L647.4,337.0 L649.9,338.7 L652.5,340.5 L655.0,342.2 L657.5,343.9 L660.1,345.6 L662.6,347.3 L665.2,349.1 L667.7,350.8 L670.2,352.5 L672.8,354.1 L675.3,355.8 L677.8,357.5 L680.4,359.2 L682.9,360.8 L685.5,362.5 L688.0,364.1 L690.5,365.7 L693.1,367.4 L695.6,369.0 L698.1,370.5 L700.7,372.1 L703.2,373.7 L705.7,375.2 L708.3,376.8 L710.8,378.3 L713.3,379.8 L715.8,381.3 L718.4,382.7 L720.9,384.2 L723.4,385.6 L725.9,387.0 L728.4,388.4 L730.9,389.8 L733.4,391.1 L735.9,392.5 L738.4,393.8 L740.9,395.0 L743.4,396.3 L745.9,397.6 L748.3,398.9 L750.8,400.2 L753.4,401.6 L755.9,403.0 L758.4,404.5 L761.0,406.1 L763.6,407.8 L766.2,409.7 L768.8,411.6 L771.5,413.8 L774.2,416.1 L777.0,418.6 L779.8,421.3 L782.6,424.2 L785.4,427.1 L787.8,430.0 L789.6,432.5 L790.7,434.5 L790.9,435.9 L790.1,436.4 L788.4,436.1 L786.0,435.2 L783.2,433.9 L780.3,432.4 L777.3,430.9 L774.4,429.4 L771.5,427.9 L768.6,426.4 L765.8,424.9 L763.0,423.4 L760.2,421.9 L757.4,420.4 L754.7,419.0 L752.0,417.5 L749.4,416.0 L746.7,414.5 L744.1,413.1 L741.5,411.6 L738.9,410.1 L736.3,408.7 L733.7,407.2 L731.2,405.7 L728.6,404.3 L726.1,402.8 L723.6,401.3 L721.0,399.8 L718.5,398.3 L716.0,396.9 L713.5,395.4 L711.0,393.9 L708.5,392.4 L706.0,390.9 L703.4,389.3 L700.9,387.8 L698.4,386.3 L695.8,384.8 L693.3,383.2 L690.7,381.7 L688.2,380.1 L685.6,378.6 L683.0,377.0 L680.5,375.5 L677.9,373.9 L675.3,372.3 L672.7,370.7 L670.1,369.1 L667.5,367.5 L664.9,365.9 L662.3,364.3 L659.7,362.7 L657.2,361.1 L654.6,359.5 L652.0,357.9 L649.4,356.3 L646.8,354.6 L644.2,353.0 L641.6,351.4 L639.0,349.7 L636.4,348.1 L633.9,346.5 L631.3,344.8 L628.7,343.2 L626.2,341.5 L623.6,339.9 L621.1,338.2 L618.6,336.6 L616.0,334.9 L613.5,333.3 L611.0,331.6 L608.5,330.0 L606.0,328.3 L603.5,326.7 L601.1,325.0 L598.6,323.4 L596.2,321.7 L593.7,320.1 L591.3,318.4 L588.9,316.8 L586.5,315.1 L584.1,313.5 L581.8,311.8 L579.4,310.2 L577.1,308.5 L574.7,306.8 L572.4,305.1 L570.0,303.4 L567.7,301.7 L565.3,300.0 L563.0,298.2 L560.7,296.5 L558.3,294.7 L555.9,292.9 L553.6,291.0 L551.2,289.2 L548.8,287.3 L546.4,285.3 L544.0,283.4 L541.5,281.4 L539.1,279.3 L536.6,277.3 L534.1,275.2 L531.6,273.0 L529.0,270.8 L526.4,268.6 L523.8,266.3 L521.2,263.9 L518.5,261.5 L515.9,259.1 L513.4,256.8 L511.3,254.6 L509.7,252.6 L508.8,251.1 L508.7,250.0 L509.6,249.4Z" stroke="#f00" stroke-width="3.00"/>
<path d="M564.9,289.8 L566.7,289.4 L569.1,289.7 L572.0,290.6 L575.3,292.1 L578.8,293.9 L582.4,296.1 L586.1,298.3 L589.7,300.6 L593.0,302.8 L596.0,304.9 L598.9,306.9 L601.6,308.8 L604.2,310.7 L606.6,312.5 L608.9,314.2 L611.1,315.9 L613.3,317.6 L615.4,319.2 L617.5,320.8 L619.7,322.4 L621.9,324.1 L624.1,325.7 L626.4,327.3 L628.8,329.0 L631.2,330.6 L633.6,332.3 L636.0,334.0 L638.5,335.6 L641.1,337.3 L643.6,339.0 L646.2,340.7 L648.8,342.3 L651.4,344.0 L654.0,345.7 L656.6,347.4 L659.3,349.0 L661.9,350.7 L664.6,352.4 L667.2,354.0 L669.9,355.7 L672.5,357.4 L675.2,359.0 L677.8,360.7 L680.4,362.3 L683.0,363.9 L685.5,365.6 L688.1,367.2 L690.6,368.8 L693.1,370.4 L695.5,371.9 L697.9,373.5 L700.3,375.1 L702.6,376.6 L704.9,378.2 L707.2,379.7 L709.6,381.4 L711.9,383.1 L714.3,384.9 L716.8,386.8 L719.4,388.9 L722.0,391.1 L724.8,393.5 L727.7,396.1 L730.5,398.6 L732.6,400.9 L733.7,402.6 L733.3,403.4 L731.3,403.3 L728.4,402.5 L725.3,401.2 L722.4,399.8 L719.5,398.2 L716.8,396.4 L714.2,394.5 L711.7,392.5 L709.2,390.4 L706.8,388.3 L704.4,386.3 L702.0,384.2 L699.6,382.2 L697.1,380.3 L694.7,378.4 L692.2,376.7 L689.7,375.0 L687.2,373.3 L684.7,371.8 L682.1,370.2 L679.6,368.7 L677.0,367.2 L674.4,365.8 L671.8,364.4 L669.2,363.0 L666.5,361.6 L663.9,360.2 L661.2,358.7 L658.6,357.3 L655.9,355.9 L653.2,354.4 L650.5,352.9 L647.9,351.4 L645.2,349.8 L642.5,348.2 L639.8,346.5 L637.2,344.9 L634.6,343.2 L632.0,341.5 L629.4,339.8 L626.9,338.2 L624.5,336.5 L622.1,334.8 L619.8,333.2 L617.5,331.5 L615.3,329.9 L613.1,328.3 L610.9,326.7 L608.7,325.1 L606.4,323.5 L604.1,321.9 L601.7,320.3 L599.2,318.6 L596.5,316.9 L593.7,315.1 L590.7,313.4 L587.5,311.5 L584.2,309.7 L580.9,307.8 L577.6,305.8 L574.5,303.9 L571.6,302.0 L569.0,300.1 L566.8,298.2 L565.1,296.3 L564.0,294.5 L563.6,292.7 L563.8,291.1 L564.9,289.8Z" stroke="#f00" stroke-width="3.00"/>
<path d="M314.1,51.6 L315.4,50.9 L317.3,51.0 L319.5,51.7 L322.1,52.8 L324.9,54.4 L327.7,56.1 L330.5,58.0 L333.4,60.1 L336.2,62.2 L339.0,64.3 L341.7,66.5 L344.4,68.7 L347.1,70.9 L349.6,73.0 L352.1,75.1 L354.6,77.1 L357.0,79.2 L359.3,81.2 L361.7,83.2 L363.9,85.1 L366.2,87.1 L368.4,89.1 L370.6,91.0 L372.7,92.9 L374.9,94.8 L377.0,96.8 L379.1,98.7 L381.2,100.6 L383.4,102.5 L385.5,104.5 L387.6,106.4 L389.8,108.3 L391.9,110.3 L394.1,112.3 L396.3,114.2 L398.5,116.2 L400.7,118.2 L402.8,120.2 L405.0,122.2 L407.3,124.2 L409.5,126.2 L411.7,128.3 L413.9,130.3 L416.1,132.3 L418.4,134.3 L420.6,136.4 L422.9,138.4 L425.1,140.4 L427.4,142.5 L429.6,144.5 L431.9,146.6 L434.2,148.6 L436.4,150.7 L438.7,152.7 L441.0,154.8 L443.3,156.8 L445.5,158.8 L447.8,160.9 L450.1,162.9 L452.4,165.0 L454.7,167.0 L457.0,169.0 L459.2,171.1 L461.5,173.1 L463.8,175.1 L466.1,177.1 L468.4,179.2 L470.7,181.2 L473.0,183.2 L475.2,185.2 L477.5,187.1 L479.8,189.1 L482.1,191.1 L484.4,193.1 L486.6,195.0 L488.9,197.0 L491.2,198.9 L493.4,200.9 L495.7,202.8 L497.9,204.7 L500.2,206.6 L502.4,208.5 L504.7,210.4 L506.9,212.3 L509.2,214.1 L511.4,216.0 L513.6,217.9 L515.8,219.8 L518.1,221.7 L520.3,223.6 L522.5,225.4 L524.7,227.3 L526.9,229.3 L529.2,231.2 L531.4,233.1 L533.6,235.0 L535.8,237.0 L538.0,239.0 L540.2,241.0 L542.4,243.0 L544.6,245.0 L546.8,247.0 L549.0,249.1 L551.2,251.2 L553.4,253.3 L555.6,255.5 L557.8,257.7 L560.0,259.9 L562.2,262.1 L564.5,264.4 L566.7,266.7 L568.9,269.0 L571.1,271.4 L573.3,273.8 L575.5,276.3 L577.7,278.8 L579.9,281.3 L582.1,283.9 L584.1,286.4 L586.1,288.9 L587.8,291.4 L589.3,293.8 L590.6,296.0 L591.6,298.2 L592.2,300.2 L592.4,302.0 L592.3,303.6 L591.6,305.1 L590.4,306.2 L588.7,307.1 L586.5,307.8 L583.8,308.1 L580.9,308.2 L577.7,308.0 L574.3,307.6 L570.9,306.9 L567.6,305.9 L564.4,304.7 L561.4,303.2 L558.6,301.6 L555.9,299.8 L553.3,298.0 L550.8,296.2 L548.2,294.4 L545.7,292.7 L543.1,290.9 L540.6,289.3 L538.1,287.6 L535.5,286.0 L533.0,284.4 L530.5,282.8 L528.0,281.2 L525.5,279.6 L523.0,278.1 L520.5,276.5 L518.0,274.9 L515.5,273.4 L513.1,271.8 L510.6,270.1 L508.2,268.5 L505.7,266.9 L503.3,265.2 L500.8,263.5 L498.4,261.8 L496.0,260.0 L493.5,258.3 L491.1,256.5 L488.7,254.7 L486.3,252.9 L484.0,251.0 L481.6,249.2 L479.2,247.3 L476.8,245.5 L474.5,243.6 L472.1,241.7 L469.8,239.8 L467.4,237.8 L465.1,235.9 L462.8,234.0 L460.5,232.0 L458.1,230.1 L455.8,228.1 L453.5,226.1 L451.2,224.1 L449.0,222.2 L446.7,220.2 L444.4,218.2 L442.2,216.2 L439.9,214.2 L437.6,212.2 L435.4,210.2 L433.2,208.2 L430.9,206.2 L428.7,204.2 L426.5,202.2 L424.3,200.2 L422.1,198.2 L419.9,196.1 L417.7,194.1 L415.6,192.0 L413.4,190.0 L411.3,187.9 L409.1,185.9 L407.0,183.8 L404.8,181.7 L402.7,179.7 L400.6,177.6 L398.5,175.5 L396.4,173.4 L394.3,171.3 L392.2,169.1 L390.2,167.0 L388.1,164.9 L386.1,162.7 L384.0,160.5 L382.0,158.4 L380.0,156.2 L378.0,154.0 L376.0,151.8 L374.0,149.6 L372.0,147.3 L370.0,145.1 L368.1,142.8 L366.1,140.6 L364.2,138.3 L362.3,136.0 L360.4,133.7 L358.5,131.3 L356.6,129.0 L354.7,126.6 L352.8,124.3 L351.0,121.9 L349.1,119.5 L347.3,117.1 L345.4,114.7 L343.6,112.2 L341.8,109.7 L340.0,107.3 L338.3,104.8 L336.5,102.2 L334.7,99.7 L333.0,97.2 L331.3,94.6 L329.6,92.0 L327.9,89.4 L326.2,86.8 L324.5,84.1 L322.9,81.4 L321.3,78.7 L319.9,75.9 L318.5,73.1 L317.2,70.2 L316.0,67.3 L315.0,64.3 L314.2,61.2 L313.5,58.2 L313.2,55.4 L313.4,53.2 L314.1,51.6Z" stroke="#00f" stroke-width="3.00"/>
<path d="M366.0,109.4 L367.9,108.6 L370.2,108.8 L372.9,109.7 L375.7,111.2 L378.8,113.2 L381.8,115.5 L384.8,117.9 L387.7,120.2 L390.3,122.4 L392.9,124.6 L395.2,126.6 L397.5,128.6 L399.7,130.5 L401.8,132.3 L403.9,134.2 L405.9,136.0 L408.0,137.8 L410.0,139.6 L412.1,141.4 L414.3,143.3 L416.4,145.1 L418.6,147.0 L420.9,149.0 L423.1,150.9 L425.4,152.8 L427.7,154.8 L430.1,156.8 L432.4,158.8 L434.8,160.8 L437.2,162.8 L439.5,164.8 L441.9,166.8 L444.3,168.9 L446.8,170.9 L449.2,172.9 L451.6,175.0 L454.0,177.1 L456.4,179.1 L458.7,181.2 L461.1,183.2 L463.5,185.3 L465.8,187.4 L468.1,189.4 L470.4,191.5 L472.7,193.5 L474.9,195.6 L477.1,197.6 L479.3,199.6 L481.4,201.7 L483.5,203.7 L485.6,205.7 L487.6,207.6 L489.6,209.6 L491.5,211.6 L493.5,213.6 L495.4,215.6 L497.4,217.6 L499.3,219.6 L501.3,221.7 L503.3,223.8 L505.3,225.9 L507.4,228.0 L509.5,230.3 L511.7,232.5 L513.9,234.8 L516.2,237.2 L518.6,239.6 L521.1,242.1 L523.7,244.7 L526.4,247.3 L529.0,249.9 L531.5,252.5 L533.8,255.1 L535.8,257.5 L537.5,259.9 L538.8,262.0 L539.6,263.9 L539.8,265.5 L538.8,266.4 L536.9,266.5 L534.3,266.2 L531.3,265.4 L528.1,264.4 L525.1,263.2 L522.1,262.0 L519.2,260.6 L516.4,259.1 L513.6,257.5 L511.0,255.9 L508.3,254.2 L505.7,252.5 L503.2,250.7 L500.7,248.8 L498.2,247.0 L495.7,245.1 L493.2,243.3 L490.8,241.4 L488.3,239.6 L485.9,237.7 L483.5,235.8 L481.1,234.0 L478.7,232.1 L476.3,230.2 L474.0,228.4 L471.6,226.5 L469.3,224.6 L466.9,222.7 L464.6,220.8 L462.3,218.9 L460.0,217.0 L457.7,215.1 L455.5,213.2 L453.2,211.2 L451.0,209.3 L448.7,207.3 L446.5,205.4 L444.3,203.4 L442.1,201.4 L439.9,199.5 L437.7,197.5 L435.5,195.5 L433.4,193.4 L431.2,191.4 L429.1,189.4 L426.9,187.3 L424.8,185.2 L422.6,183.2 L420.5,181.1 L418.4,179.0 L416.3,176.8 L414.2,174.7 L412.1,172.5 L410.0,170.4 L407.9,168.2 L405.8,166.0 L403.8,163.8 L401.7,161.5 L399.6,159.3 L397.6,157.0 L395.5,154.7 L393.4,152.4 L391.4,150.1 L389.3,147.8 L387.3,145.4 L385.2,143.0 L383.2,140.6 L381.1,138.2 L379.1,135.8 L377.0,133.3 L375.0,130.8 L372.9,128.3 L370.9,125.8 L368.8,123.2 L367.0,120.7 L365.5,118.2 L364.5,115.8 L364.2,113.4 L364.7,111.2 L366.0,109.4Z" stroke="#00f" stroke-width="3.00"/>
<line x1="759.9" y1="16.3" x2="759.9" y2="715.2" stroke="#808080" stroke-width="2.5"/>
<line x1="676.4" y1="715.2" x2="676.4" y2="16.3" stroke="#808080" stroke-width="2.5" stroke-dasharray="15 16.13"/>
<line x1="842.9" y1="715.2" x2="842.9" y2="16.3" stroke="#808080" stroke-width="2.5" stroke-dasharray="15 16.13"/>
</g>
<g stroke="#000" fill="none">
<rect x="135.4" y="16.3" width="867.3" height="698.9" stroke-width="2.5"/>
<line x1="170.1" y1="715.2" x2="170.1" y2="704.5" stroke-width="1.5"/>
<line x1="170.1" y1="16.3" x2="170.1" y2="27.0" stroke-width="1.5"/>
<line x1="308.9" y1="715.2" x2="308.9" y2="704.5" stroke-width="1.5"/>
<line x1="308.9" y1="16.3" x2="308.9" y2="27.0" stroke-width="1.5"/>
<line x1="447.6" y1="715.2" x2="447.6" y2="704.5" stroke-width="1.5"/>
<line x1="447.6" y1="16.3" x2="447.6" y2="27.0" stroke-width="1.5"/>
<line x1="586.4" y1="715.2" x2="586.4" y2="704.5" stroke-width="1.5"/>
<line x1="586.4" y1="16.3" x2="586.4" y2="27.0" stroke-width="1.5"/>
<line x1="725.2" y1="715.2" x2="725.2" y2="704.5" stroke-width="1.5"/>
<line x1="725.2" y1="16.3" x2="725.2" y2="27.0" stroke-width="1.5"/>
<line x1="863.9" y1="715.2" x2="863.9" y2="704.5" stroke-width="1.5"/>
<line x1="863.9" y1="16.3" x2="863.9" y2="27.0" stroke-width="1.5"/>
<line x1="1002.7" y1="715.2" x2="1002.7" y2="704.5" stroke-width="1.5"/>
<line x1="1002.7" y1="16.3" x2="1002.7" y2="27.0" stroke-width="1.5"/>
<line x1="135.4" y1="715.2" x2="146.1" y2="715.2" stroke-width="1.5"/>
<line x1="1002.7" y1="715.2" x2="992.0" y2="715.2" stroke-width="1.5"/>
<line x1="135.4" y1="615.4" x2="146.1" y2="615.4" stroke-width="1.5"/>
<line x1="1002.7" y1="615.4" x2="992.0" y2="615.4" stroke-width="1.5"/>
<line x1="135.4" y1="515.5" x2="146.1" y2="515.5" stroke-width="1.5"/>
<line x1="1002.7" y1="515.5" x2="992.0" y2="515.5" stroke-width="1.5"/>
<line x1="135.4" y1="415.7" x2="146.1" y2="415.7" stroke-width="1.5"/>
<line x1="1002.7" y1="415.7" x2="992.0" y2="415.7" stroke-width="1.5"/>
<line x1="135.4" y1="315.8" x2="146.1" y2="315.8" stroke-width="1.5"/>
<line x1="1002.7" y1="315.8" x2="992.0" y2="315.8" stroke-width="1.5"/>
<line x1="135.4" y1="216.0" x2="146.1" y2="216.0" stroke-width="1.5"/>
<line x1="1002.7" y1="216.0" x2="992.0" y2="216.0" stroke-width="1.5"/>
<line x1="135.4" y1="116.1" x2="146.1" y2="116.1" stroke-width="1.5"/>
<line x1="1002.7" y1="116.1" x2="992.0" y2="116.1" stroke-width="1.5"/>
<line x1="135.4" y1="16.3" x2="146.1" y2="16.3" stroke-width="1.5"/>
<line x1="1002.7" y1="16.3" x2="992.0" y2="16.3" stroke-width="1.5"/>
</g>
<g font-family="Liberation Serif, serif" fill="#000" style="font-kerning:none">
<text transform="translate(149.57,753.20) scale(1.0103,1.0000)" font-size="39.50">56</text>
<text transform="translate(288.96,753.20) scale(1.0028,1.0000)" font-size="39.50">60</text>
<text transform="translate(427.77,753.20) scale(0.9789,1.0000)" font-size="39.50">64</text>
<text transform="translate(566.49,753.20) scale(1.0028,1.0000)" font-size="39.50">68</text>
<text transform="translate(704.23,753.20) scale(1.0485,1.0000)" font-size="39.50">72</text>
<text transform="translate(843.08,753.20) scale(1.0190,1.0000)" font-size="39.50">76</text>
<text transform="translate(983.00,753.20) scale(0.9975,1.0000)" font-size="39.50">80</text>
<text transform="translate(56.10,726.20) scale(0.9982,1.0000)" font-size="39.50">0.10</text>
<text transform="translate(56.10,626.36) scale(0.9988,1.0000)" font-size="39.50">0.15</text>
<text transform="translate(56.10,526.51) scale(0.9982,1.0000)" font-size="39.50">0.20</text>
<text transform="translate(56.10,426.67) scale(0.9988,1.0000)" font-size="39.50">0.25</text>
<text transform="translate(56.10,326.83) scale(0.9982,1.0000)" font-size="39.50">0.30</text>
<text transform="translate(56.10,226.99) scale(0.9988,1.0000)" font-size="39.50">0.35</text>
<text transform="translate(56.10,127.14) scale(0.9982,1.0000)" font-size="39.50">0.40</text>
<text transform="translate(56.10,27.30) scale(0.9988,1.0000)" font-size="39.50">0.45</text>
<line x1="180.5" y1="442.4" x2="237" y2="442.4" stroke="#800080" stroke-width="3"/>
<line x1="180.5" y1="496.8" x2="237" y2="496.8" stroke="#000000" stroke-width="3"/>
<line x1="180.5" y1="550.6" x2="237" y2="550.6" stroke="#ffa500" stroke-width="3"/>
<line x1="180.5" y1="605.0" x2="237" y2="605.0" stroke="#ff0000" stroke-width="3"/>
<line x1="180.5" y1="659.0" x2="237" y2="659.0" stroke="#0000ff" stroke-width="3"/>
<text transform="translate(278.96,456.20) scale(1.0045,1.0000)" font-size="39.50">BAO</text>
<text transform="translate(281.87,510.60) scale(1.0873,1.0000)" font-size="39.50" font-style="italic">WMAP</text>
<text transform="translate(408.06,510.60) scale(1.0559,1.0000)" font-size="39.50">9</text>
<text transform="translate(277.18,564.90) scale(1.1040,1.0000)" font-size="39.50">SPT</text>
<text transform="translate(280.51,619.00) scale(1.0122,1.0000)" font-size="39.50" font-style="italic">Planck</text>
<text transform="translate(407.44,619.00) scale(1.0664,1.0000)" font-size="39.50">TT</text>
<text transform="translate(472.73,619.00) scale(0.9641,1.0000)" font-size="39.50">2015</text>
<text transform="translate(561.22,619.00) scale(1.0231,1.0000)" font-size="39.50">2</text>
<text transform="translate(592.80,623.70) scale(1.2785,1.2984)" font-size="39.50">≤</text>
<text transform="translate(630.61,619.00) scale(1.0243,1.0000)" font-size="39.50">ℓ</text>
<text transform="translate(658.89,624.02) scale(1.3275,1.1755)" font-size="39.50">&lt;</text>
<text transform="translate(698.41,619.00) scale(0.9767,1.0000)" font-size="39.50">1000</text>
<text transform="translate(280.51,673.00) scale(1.0122,1.0000)" font-size="39.50" font-style="italic">Planck</text>
<text transform="translate(407.44,673.00) scale(1.0664,1.0000)" font-size="39.50">TT</text>
<text transform="translate(472.73,673.00) scale(0.9641,1.0000)" font-size="39.50">2015</text>
<text transform="translate(559.42,673.00) scale(1.0010,1.0000)" font-size="39.50">1000</text>
<text transform="translate(648.77,677.70) scale(1.3601,1.2984)" font-size="39.50">≤</text>
<text transform="translate(687.01,673.00) scale(1.0243,1.0000)" font-size="39.50">ℓ</text>
<text transform="translate(716.57,677.70) scale(1.3601,1.2984)" font-size="39.50">≤</text>
<text transform="translate(755.91,673.00) scale(0.9715,1.0000)" font-size="39.50">2508</text>
<text transform="translate(398.74,808.30) scale(1.0318,1.0000)" font-size="39.50" font-style="italic">H</text>
<text transform="translate(426.38,813.89) scale(0.7467,0.8141)" font-size="39.50">0</text>
<text transform="translate(457.27,811.31) scale(0.6595,1.1716)" font-size="39.50">[</text>
<text transform="translate(465.96,808.30) scale(0.9836,1.0000)" font-size="39.50">km</text>
<text transform="translate(529.16,808.30) scale(1.0142,1.0000)" font-size="39.50">s</text>
<text transform="translate(542.86,800.03) scale(1.0881,1.0166)" font-size="39.50">−</text>
<text transform="translate(565.00,794.20) scale(0.7191,0.6711)" font-size="39.50">1</text>
<text transform="translate(593.85,808.30) scale(1.0107,1.0000)" font-size="39.50">Mpc</text>
<text transform="translate(667.42,800.03) scale(0.9031,1.0166)" font-size="39.50">−</text>
<text transform="translate(687.50,794.20) scale(0.7191,0.6711)" font-size="39.50">1</text>
<text transform="translate(702.49,811.31) scale(0.5685,1.1716)" font-size="39.50">]</text>
<text transform="translate(0,400) rotate(-90) translate(-1.07,27.90) scale(0.9657,1.0477)" font-size="39.50">Ω</text>
<text transform="translate(0,400) rotate(-90) translate(27.49,33.70) scale(0.8451,0.6824)" font-size="39.50" font-style="italic">m</text>
</g>
</svg></body></html>
